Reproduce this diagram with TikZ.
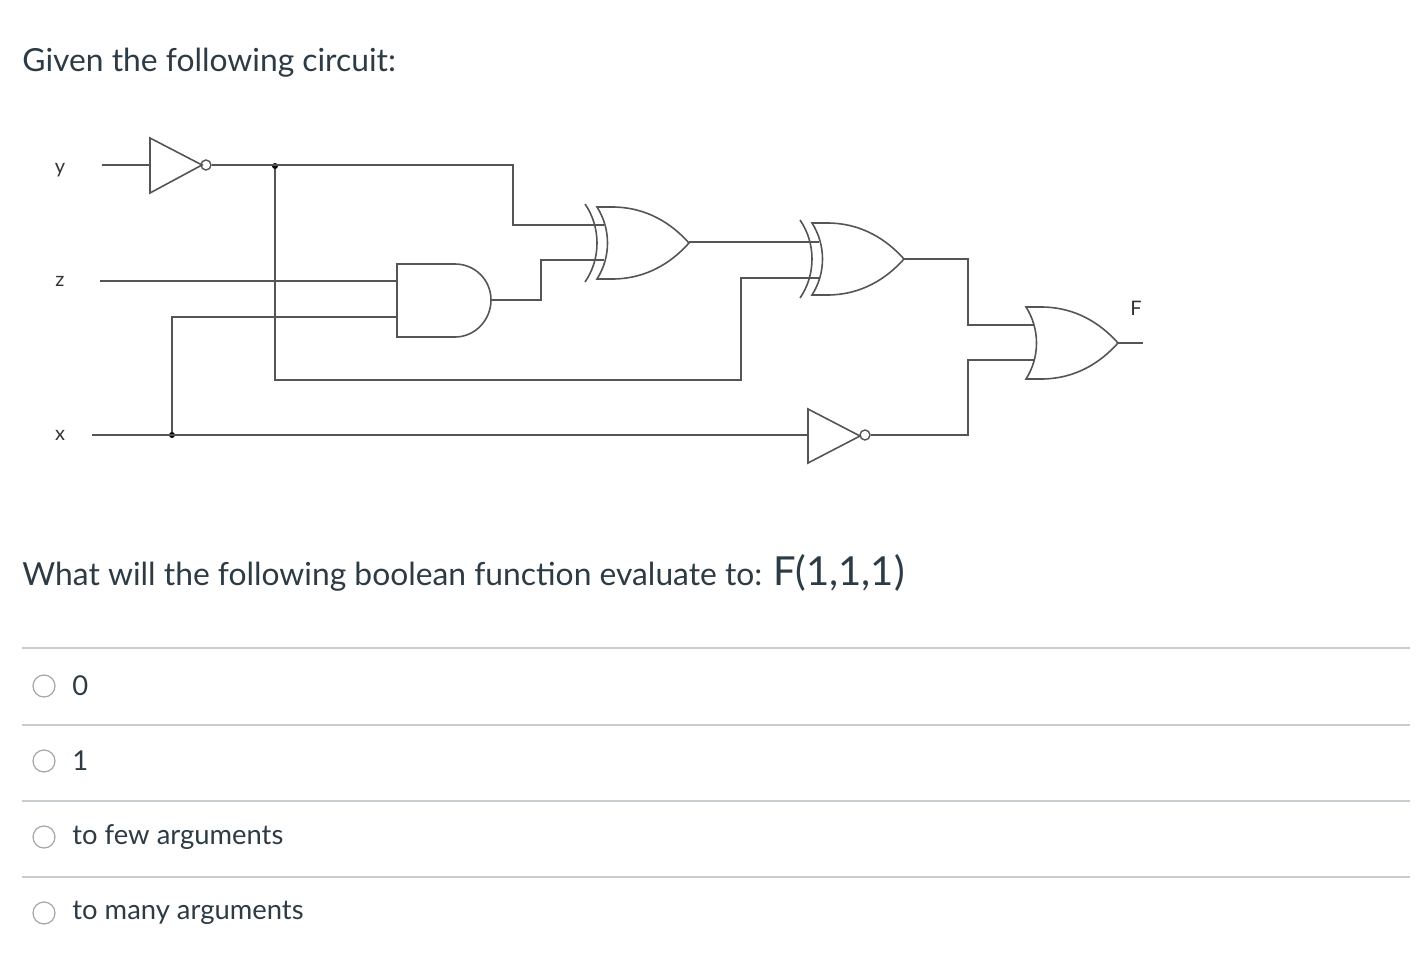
\documentclass[tikz,border=0pt]{standalone}
\usepackage{fontspec}
\setmainfont{Lato}
\definecolor{txt}{HTML}{2D3B45}
\definecolor{wire}{HTML}{555555}
\definecolor{sep}{HTML}{C7CDD1}
\newcommand\myxor[1]{%
 \begin{scope}[shift={#1}]
  \draw[gate] (-2,-3) .. controls (14,20) and (14,52) .. (-2,75);
  \draw[gate] (10,0) .. controls (24,22) and (24,50) .. (10,72) -- (25,72) .. controls (60,72) and (85,55) .. (102,36) .. controls (85,17) and (60,0) .. (25,0) -- cycle;
 \end{scope}}
\newcommand\myor[1]{%
 \begin{scope}[shift={#1}]
  \draw[gate] (0,0) .. controls (14,22) and (14,50) .. (0,72) -- (15,72) .. controls (50,72) and (75,55) .. (92,36) .. controls (75,17) and (50,0) .. (15,0) -- cycle;
 \end{scope}}
\begin{document}
\begin{tikzpicture}[x=0.5pt,y=-0.5pt,
 gate/.style={draw=wire,line width=0.8pt},
 wirel/.style={draw=wire,line width=0.9pt},
 lbl/.style={text=txt,inner sep=0pt},
 sml/.style={text=black!80,inner sep=0pt,font=\fontsize{10}{12}\selectfont},
 dotn/.style={circle,fill=black,inner sep=0pt,minimum size=3pt},
 bub/.style={circle,draw=wire,line width=0.7pt,inner sep=0pt,minimum size=5pt},
 radio/.style={circle,draw=gray!70,line width=0.6pt,inner sep=0pt,minimum size=11pt}]
\useasboundingbox (0,0) rectangle (1420,980);
\node[lbl,anchor=west,font=\fontsize{15.9}{18}\selectfont] (title) at (22,63) {Given the following circuit:};
% labels
\node[sml] (ly) at (60,170) {y};
\node[sml] (lz) at (60,281) {z};
\node[sml] (lx) at (60,435) {x};
\node[sml] (lF) at (1136,308) {F};
% NOT1
\draw[gate] (150,138) -- (150,193) -- (202,165) -- cycle;
\node[bub] (b1) at (206,165) {};
\coordinate (iny) at (102,165);
\draw[wirel] (iny) -- (150,165);
\node[dotn] (d1) at (275,166) {};
\draw[wirel] (b1) -- (513,165) -- (513,225) -- (604,225);
% AND
\draw[gate] (397,264) -- (455,264) .. controls (475,264) and (491,280) .. (491,300) .. controls (491,320) and (475,337) .. (455,337) -- (397,337) -- cycle;
\coordinate (inz) at (100,281);
\draw[wirel] (inz) -- (397,281);
\node[dotn] (d2) at (172,435) {};
\draw[wirel] (d2) -- (172,317) -- (397,317);
\draw[wirel] (491,300) -- (541,300) -- (541,260) -- (604,260);
% XOR1
\myxor{(587,207)}
% y vertical
\draw[wirel] (d1) -- (275,380) -- (741,380) -- (741,278) -- (819,278);
\draw[wirel] (689,242) -- (819,242);
% XOR2
\myxor{(802,223)}
% x line & NOT2
\coordinate (inx) at (92,435);
\draw[wirel] (inx) -- (808,435);
\draw[gate] (808,409) -- (808,463) -- (860,436) -- cycle;
\node[bub] (b2) at (865,435) {};
\draw[wirel] (904,259) -- (968,259) -- (968,325) -- (1034,325);
\draw[wirel] (b2) -- (968,435) -- (968,360) -- (1034,360);
% OR
\myor{(1026,307)}
\coordinate (outF) at (1143,343);
\draw[wirel] (1118,343) -- (outF);
% question
\node[lbl,anchor=base west,font=\fontsize{15.9}{18}\selectfont] (q) at (22,585) {What will the following boolean function evaluate to: {\fontsize{20}{22}\selectfont F(1,1,1)}};
\foreach \yy in {648,725,801,877} \draw[sep,line width=0.7pt] (22,\yy) -- (1410,\yy);
\foreach \yy/\t [count=\i] in {686/0,761/1,837/to few arguments,913/to many arguments}{
 \node[radio] (r\i) at (44,\yy) {};
 \node[lbl,anchor=west,font=\fontsize{13.7}{16}\selectfont] (o\i) at (72,\yy) {\t};
}
\end{tikzpicture}
\end{document}
